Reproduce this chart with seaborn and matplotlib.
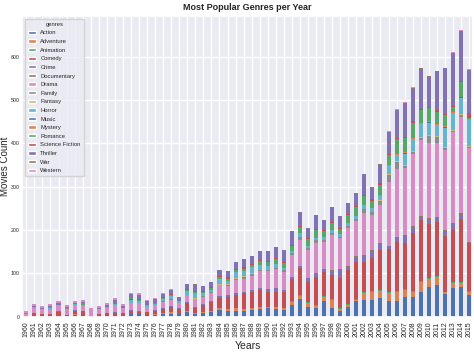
import pandas as pd
import matplotlib
import matplotlib.pyplot as plt
from matplotlib.patches import Patch
import seaborn as sns

matplotlib.use('Agg')

years = list(range(1960, 2016))
genres = ['Action', 'Adventure', 'Animation', 'Comedy', 'Crime', 'Documentary',
          'Drama', 'Family', 'Fantasy', 'Horror', 'Music', 'Mystery', 'Romance',
          'Science Fiction', 'Thriller', 'War', 'Western']

# movies per genre and year, 1960 .. 2015
action = [0, 2, 0, 1, 2, 1, 4, 2, 0, 3,
          3, 3, 2, 5, 5, 3, 4, 6, 7, 5,
          10, 6, 8, 10, 16, 12, 14, 14, 15, 18,
          20, 18, 16, 28, 40, 22, 20, 35, 20, 12,
          22, 35, 38, 38, 42, 35, 35, 45, 45, 58,
          69, 73, 52, 65, 69, 50]
adventure = [0, 0, 2, 0, 0, 0, 2, 0, 0, 0,
             0, 0, 0, 2, 0, 1, 2, 2, 3, 1,
             3, 2, 3, 3, 4, 6, 5, 4, 4, 4,
             3, 4, 3, 5, 8, 9, 5, 11, 19, 5,
             5, 4, 16, 20, 18, 19, 23, 17, 13, 23,
             19, 19, 4, 12, 8, 8]
animation = [0, 0, 0, 0, 0, 0, 0, 0, 0, 0,
             0, 0, 0, 0, 0, 0, 0, 0, 0, 0,
             0, 0, 0, 0, 0, 0, 0, 0, 0, 0,
             0, 0, 0, 2, 2, 2, 2, 1, 2, 2,
             2, 2, 2, 2, 2, 2, 2, 2, 2, 2,
             2, 2, 2, 2, 2, 1]
comedy = [1, 6, 4, 5, 8, 3, 8, 10, 2, 4,
          5, 5, 6, 6, 6, 6, 7, 10, 12, 12,
          18, 12, 16, 20, 24, 28, 32, 36, 38, 40,
          34, 36, 38, 52, 62, 48, 65, 57, 55, 70,
          79, 86, 71, 75, 92, 100, 113, 105, 134, 140,
          125, 125, 128, 121, 146, 110]
crime = [0, 1, 0, 0, 2, 0, 2, 0, 0, 0,
         0, 2, 0, 3, 3, 0, 2, 2, 2, 1,
         2, 3, 2, 3, 3, 3, 4, 4, 4, 5,
         6, 8, 5, 5, 6, 8, 8, 6, 10, 20,
         7, 11, 13, 17, 14, 6, 9, 17, 12, 7,
         11, 9, 12, 14, 8, 2]
documentary = [0, 0, 0, 0, 0, 0, 0, 0, 0, 0,
               0, 0, 0, 0, 0, 0, 0, 0, 0, 0,
               0, 0, 0, 0, 0, 0, 0, 0, 0, 0,
               0, 0, 0, 0, 0, 1, 1, 1, 2, 2,
               2, 2, 2, 2, 2, 2, 2, 2, 3, 2,
               2, 2, 2, 2, 7, 2]
drama = [6, 12, 12, 10, 14, 13, 12, 12, 10, 10,
         13, 16, 11, 16, 17, 13, 12, 14, 15, 12,
         16, 18, 16, 18, 25, 22, 30, 30, 34, 38,
         42, 44, 42, 50, 60, 64, 70, 62, 80, 70,
         88, 80, 98, 80, 88, 146, 157, 155, 166, 175,
         174, 170, 184, 210, 222, 216]
family = [2, 0, 0, 0, 0, 2, 0, 0, 2, 0,
          0, 0, 0, 0, 1, 0, 0, 2, 2, 0,
          2, 0, 2, 2, 2, 2, 3, 3, 3, 3,
          3, 3, 3, 4, 6, 4, 5, 5, 6, 4,
          5, 6, 8, 8, 8, 18, 16, 5, 6, 5,
          16, 15, 5, 3, 3, 3]
fantasy = [0, 0, 0, 0, 0, 0, 0, 0, 0, 0,
           0, 0, 0, 0, 0, 0, 0, 0, 0, 0,
           0, 2, 0, 0, 2, 2, 2, 2, 2, 0,
           0, 0, 0, 0, 0, 0, 0, 0, 0, 0,
           0, 0, 0, 0, 3, 2, 2, 2, 2, 2,
           2, 2, 2, 2, 2, 2]
horror = [0, 2, 0, 3, 2, 1, 1, 2, 0, 1,
          2, 3, 2, 7, 4, 4, 3, 5, 7, 4,
          8, 10, 8, 6, 10, 8, 12, 12, 14, 12,
          10, 8, 6, 6, 8, 5, 6, 5, 6, 5,
          6, 6, 10, 8, 10, 17, 14, 26, 27, 30,
          28, 25, 45, 38, 38, 60]
music = [0, 0, 0, 0, 0, 0, 0, 0, 0, 0,
         0, 0, 0, 1, 0, 0, 0, 0, 0, 0,
         0, 0, 0, 0, 0, 0, 0, 0, 0, 0,
         0, 0, 0, 0, 0, 0, 0, 0, 0, 0,
         0, 0, 0, 0, 0, 1, 1, 1, 1, 1,
         1, 1, 1, 1, 1, 1]
mystery = [0, 0, 0, 0, 0, 0, 0, 0, 0, 0,
           0, 0, 0, 0, 0, 0, 0, 0, 0, 0,
           0, 1, 0, 0, 0, 0, 0, 0, 0, 0,
           0, 0, 0, 0, 0, 0, 0, 0, 0, 0,
           0, 0, 0, 0, 2, 2, 2, 2, 2, 2,
           2, 2, 2, 2, 2, 2]
romance = [0, 0, 0, 3, 0, 0, 0, 5, 0, 0,
           0, 0, 0, 3, 2, 0, 2, 2, 3, 2,
           3, 3, 3, 4, 6, 5, 6, 6, 6, 8,
           8, 12, 12, 10, 14, 16, 18, 14, 16, 13,
           18, 20, 20, 18, 24, 22, 34, 33, 35, 30,
           30, 28, 26, 13, 33, 2]
science_fiction = [0, 0, 0, 0, 0, 0, 0, 0, 0, 0,
                   0, 0, 0, 0, 2, 0, 0, 2, 2, 0,
                   2, 2, 2, 2, 3, 3, 3, 3, 2, 3,
                   3, 2, 2, 3, 4, 2, 3, 3, 3, 2,
                   2, 3, 3, 3, 3, 3, 2, 3, 3, 3,
                   2, 3, 3, 2, 3, 12]
thriller = [0, 2, 2, 3, 3, 3, 2, 2, 0, 2,
            4, 9, 4, 9, 10, 7, 8, 8, 9, 8,
            11, 15, 11, 13, 13, 14, 16, 18, 18, 20,
            23, 25, 28, 33, 31, 24, 31, 23, 35, 28,
            26, 30, 48, 29, 42, 51, 64, 77, 74, 92,
            71, 90, 105, 121, 115, 98]
war = [0, 0, 0, 0, 0, 0, 0, 0, 0, 0,
       0, 0, 0, 0, 0, 1, 0, 0, 0, 0,
       0, 1, 0, 0, 0, 0, 0, 0, 0, 0,
       0, 0, 0, 0, 0, 0, 0, 0, 0, 0,
       0, 0, 0, 0, 2, 1, 1, 2, 2, 2,
       1, 1, 1, 1, 1, 1]
western = [5, 4, 5, 4, 4, 5, 4, 5, 6, 5,
           5, 6, 4, 3, 4, 3, 2, 1, 1, 1,
           0, 0, 0, 0, 0, 0, 0, 0, 0, 0,
           0, 0, 0, 0, 0, 0, 0, 0, 0, 0,
           0, 0, 0, 0, 0, 1, 2, 1, 2, 1,
           0, 1, 1, 1, 1, 1]

counts = pd.DataFrame({
    'Action': action, 'Adventure': adventure, 'Animation': animation,
    'Comedy': comedy, 'Crime': crime, 'Documentary': documentary,
    'Drama': drama, 'Family': family, 'Fantasy': fantasy, 'Horror': horror,
    'Music': music, 'Mystery': mystery, 'Romance': romance,
    'Science Fiction': science_fiction, 'Thriller': thriller, 'War': war,
    'Western': western}, index=years)
counts.index.name = 'year'
data = counts.reset_index().melt(id_vars='year', var_name='genre', value_name='count')

sns.set_theme(style='darkgrid')
plt.rcParams['font.family'] = ['Liberation Sans Narrow', 'Liberation Sans', 'DejaVu Sans']

deep = sns.color_palette('deep', 10)
colors = {g: deep[i % 10] for i, g in enumerate(genres)}

fig, ax = plt.subplots(figsize=(4.74, 3.55), dpi=100)
fig.subplots_adjust(left=0.047, right=0.998, bottom=0.108, top=0.955)

# first hue level goes on top of the stack, so reverse to keep Action at the bottom
sns.histplot(data=data, x='year', weights='count', hue='genre', hue_order=genres[::-1],
             palette=colors, multiple='stack', discrete=True, shrink=0.5,
             alpha=1, linewidth=0, legend=False, ax=ax)

ax.set_xlim(1959.5, 2015.5)
ax.set_xticks(years)
ax.set_xticklabels([str(y) for y in years], rotation=90, fontsize=5)
ax.set_yticks(range(0, 700, 100))
ax.tick_params(axis='both', length=0)
ax.tick_params(axis='y', labelsize=3.8, pad=2)
ax.tick_params(axis='x', pad=3.5)
ax.set_xlabel('Years', fontsize=7.5)
ax.set_ylabel('Movies Count', fontsize=7, va='center')
ax.xaxis.set_label_coords(0.5, -0.082)
ax.yaxis.set_label_coords(-0.038, 0.5)
ax.set_title('Most Popular Genres per Year', fontsize=6.5, fontweight='bold', pad=4)

handles = [Patch(facecolor=colors[g], label=g) for g in genres]
ax.legend(handles=handles, title='genres', loc='upper left', fontsize=4.2,
          title_fontsize=4.2, handlelength=1.3, handleheight=0.5,
          labelspacing=0.62, borderpad=0.5)

fig.savefig('out.png', dpi=100)
plt.close(fig)
